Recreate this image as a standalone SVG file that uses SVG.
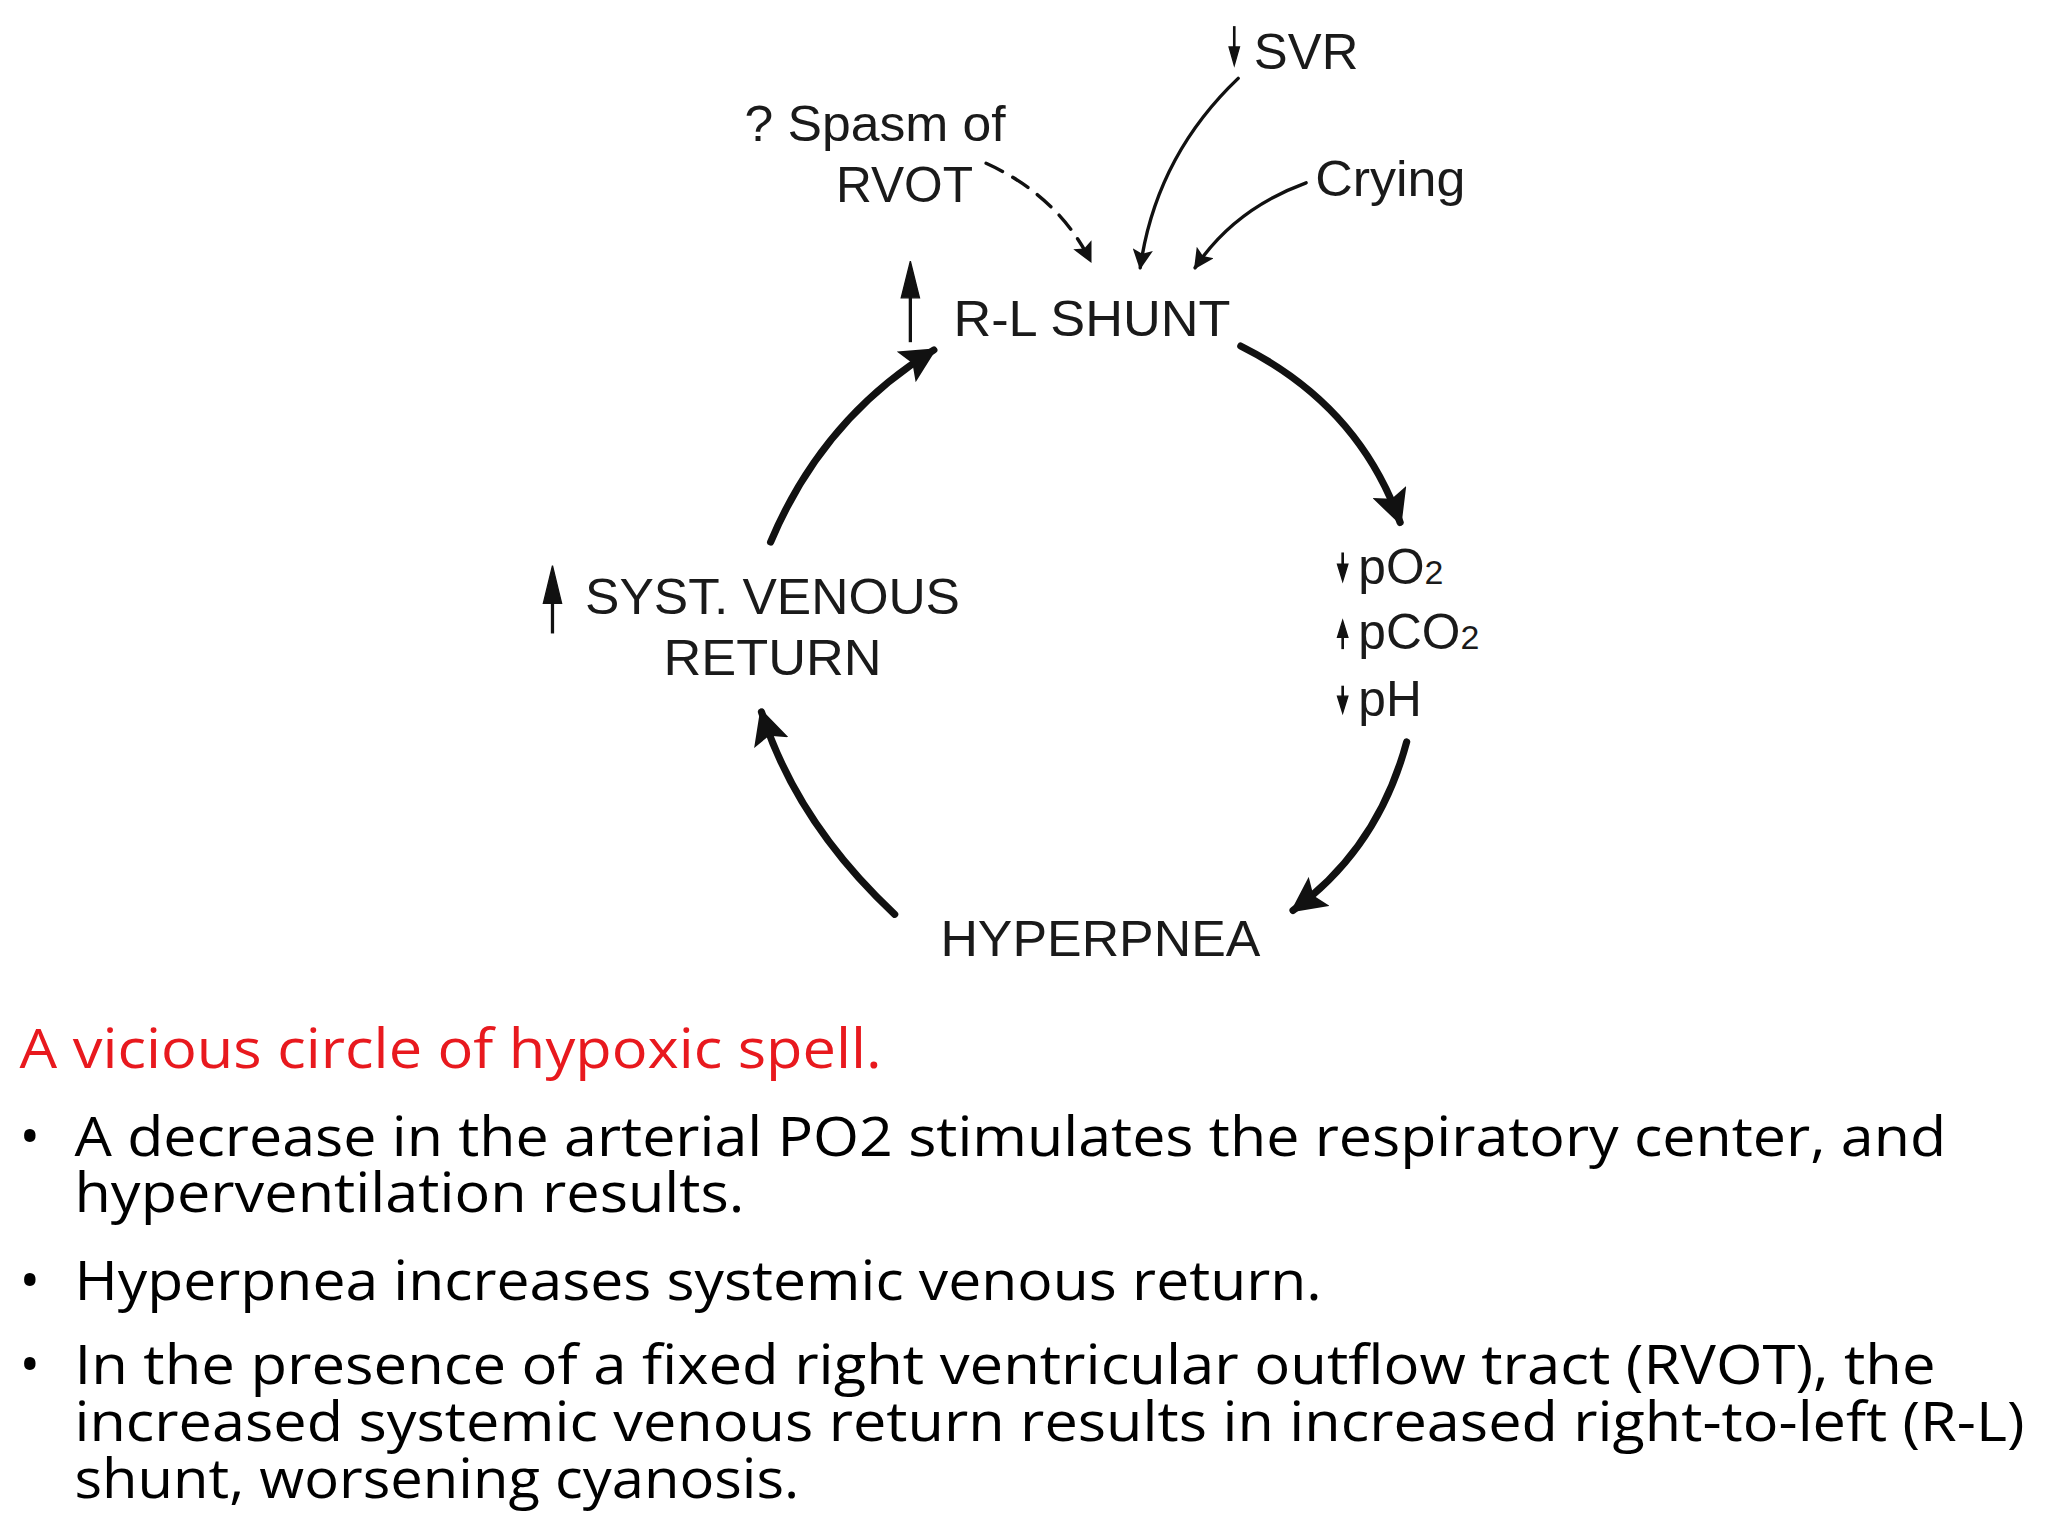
<svg xmlns="http://www.w3.org/2000/svg" width="2048" height="1536" viewBox="0 0 2048 1536">
<defs>
<style>
.d{font-family:"Liberation Sans",Arial,sans-serif;fill:#1a1a1a;font-size:38px}
.b{font-family:"Open Sans","Noto Sans",sans-serif;fill:#000;font-size:42px}
.c{fill:none;stroke:#111;stroke-width:5.5;stroke-linecap:round}
.t{fill:none;stroke:#111;stroke-width:2.6;stroke-linecap:round}
</style>
<marker id="big" viewBox="0 0 10 10" refX="9" refY="5" markerWidth="5" markerHeight="5" orient="auto" markerUnits="strokeWidth"><path d="M0,0 L10,5 L0,10 L2,5 z" fill="#111"/></marker>
<marker id="sm" viewBox="0 0 10 10" refX="9" refY="5" markerWidth="7" markerHeight="6" orient="auto" markerUnits="strokeWidth"><path d="M0,0 L10,5 L0,10 L2,5 z" fill="#111"/></marker>
</defs>
<rect width="2048" height="1536" fill="#fff"/>
<g transform="scale(1.3061)">
<g id="connectors">
<path class="t" d="M755,125 Q810,150 835,200" stroke-dasharray="14,9" marker-end="url(#sm)"/>
<path class="t" d="M948,60 Q885,120 873,205" marker-end="url(#sm)"/>
<path class="t" d="M1000,140 Q945,160 915,205" marker-end="url(#sm)"/>
<path class="c" d="M950,265 Q1040,310 1072,400" marker-end="url(#big)"/>
<path class="c" d="M1077,568 Q1055,650 990,697" marker-end="url(#big)"/>
<path class="c" d="M685,700 Q610,630 583,545" marker-end="url(#big)"/>
<path class="c" d="M590,415 Q630,320 715,268" marker-end="url(#big)"/>
</g>
<g id="small-arrows" fill="#111" stroke="#111">
<line x1="945" y1="20" x2="945" y2="40" stroke-width="2"/><path d="M941,36 L949,36 L945,50 z"/>
<line x1="697" y1="262" x2="697" y2="215" stroke-width="2.5"/><path d="M690,228 L704,228 L697,200 z"/>
<line x1="423" y1="485" x2="423" y2="445" stroke-width="2.5"/><path d="M416,462 L430,462 L423,433 z"/>
<line x1="1028" y1="423" x2="1028" y2="435" stroke-width="2"/><path d="M1024,432 L1032,432 L1028,445 z"/>
<line x1="1028" y1="497" x2="1028" y2="485" stroke-width="2"/><path d="M1024,488 L1032,488 L1028,475 z"/>
<line x1="1028" y1="525" x2="1028" y2="536" stroke-width="2"/><path d="M1024,533 L1032,533 L1028,546 z"/>
</g>
<g id="svr"><text class="d" x="960" y="53" textLength="80" lengthAdjust="spacingAndGlyphs">SVR</text></g>
<g id="spasm"><text class="d" x="570" y="108" textLength="200" lengthAdjust="spacingAndGlyphs">? Spasm of</text><text class="d" x="640" y="155" textLength="105" lengthAdjust="spacingAndGlyphs">RVOT</text></g>
<g id="crying"><text class="d" x="1007" y="150" textLength="115" lengthAdjust="spacingAndGlyphs">Crying</text></g>
<g id="shunt"><text class="d" x="730" y="257" textLength="212" lengthAdjust="spacingAndGlyphs">R-L SHUNT</text></g>
<g id="gases">
<text class="d" x="1040" y="447">pO<tspan font-size="26">2</tspan></text>
<text class="d" x="1040" y="497">pCO<tspan font-size="26">2</tspan></text>
<text class="d" x="1040" y="548">pH</text>
</g>
<g id="hyperpnea"><text class="d" x="720" y="732" textLength="245" lengthAdjust="spacingAndGlyphs">HYPERPNEA</text></g>
<g id="venous"><text class="d" x="448" y="470" textLength="287" lengthAdjust="spacingAndGlyphs">SYST. VENOUS</text><text class="d" x="508" y="517" textLength="167" lengthAdjust="spacingAndGlyphs">RETURN</text></g>
<g id="caption">
<text class="b" x="15" y="818" fill="#e8191e" style="fill:#e8191e" textLength="660" lengthAdjust="spacingAndGlyphs">A vicious circle of hypoxic spell.</text>
<text class="b" x="15" y="885">•</text>
<text class="b" x="57" y="885" textLength="1433" lengthAdjust="spacingAndGlyphs">A decrease in the arterial PO2 stimulates the respiratory center, and</text>
<text class="b" x="57" y="928" textLength="513" lengthAdjust="spacingAndGlyphs">hyperventilation results.</text>
<text class="b" x="15" y="995">•</text>
<text class="b" x="57" y="995" textLength="955" lengthAdjust="spacingAndGlyphs">Hyperpnea increases systemic venous return.</text>
<text class="b" x="15" y="1060">•</text>
<text class="b" x="57" y="1060" textLength="1425" lengthAdjust="spacingAndGlyphs">In the presence of a fixed right ventricular outflow tract (RVOT), the</text>
<text class="b" x="57" y="1103" textLength="1493" lengthAdjust="spacingAndGlyphs">increased systemic venous return results in increased right-to-left (R-L)</text>
<text class="b" x="57" y="1147" textLength="555" lengthAdjust="spacingAndGlyphs">shunt, worsening cyanosis.</text>
</g>
</g>
</svg>
